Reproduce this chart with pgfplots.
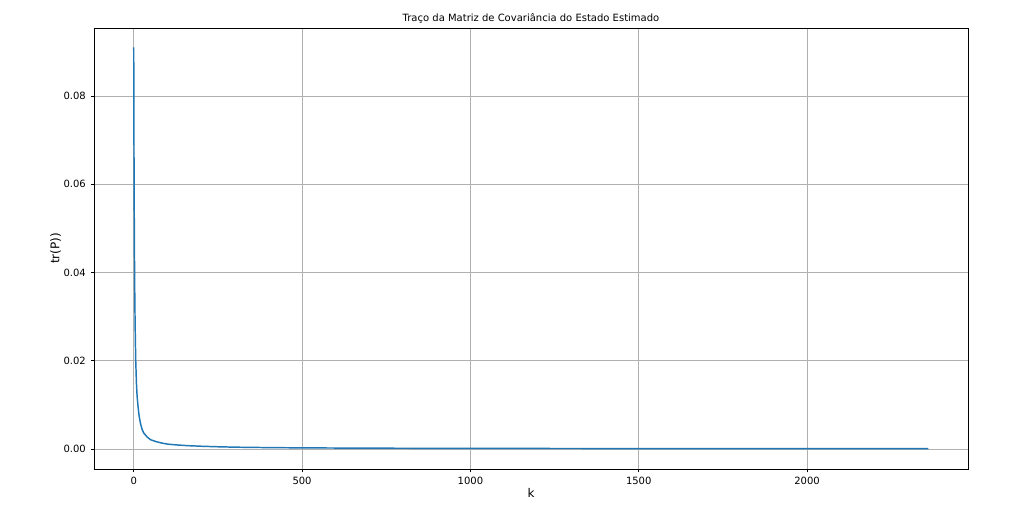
\documentclass[border=0pt]{standalone}
\usepackage{fontspec}
\setmainfont{DejaVu Sans}
\usepackage{pgfplots}
\pgfplotsset{compat=1.18}

\definecolor{mplblue}{HTML}{1F77B4}
\definecolor{mplgrid}{HTML}{B0B0B0}

\begin{document}
\begin{tikzpicture}[x=0.75pt,y=0.75pt]
  % page = 1024 x 512 px, axis box from (94,28) to (968,469) px
  \path[use as bounding box] (-94,-43) rectangle (930,469);
  \begin{axis}[
    at={(0,0)}, anchor=south west,
    scale only axis,
    width=655.5pt, height=330.75pt,
    xmin=-118, xmax=2478,
    ymin=-0.00454, ymax=0.0954,
    xtick={0,500,1000,1500,2000},
    ytick={0,0.02,0.04,0.06,0.08},
    xticklabel style={/pgf/number format/.cd, 1000 sep={}},
    yticklabel style={/pgf/number format/.cd, fixed, fixed zerofill, precision=2},
    scaled y ticks=false,
    /pgf/number format/assume math mode=true,
    tick label style={font=\fontsize{7.5}{9}\selectfont},
    tick align=outside,
    major tick length=2.6pt,
    tick style={black, line width=0.6pt},
    xtick pos=bottom, ytick pos=left,
    grid=major,
    major grid style={mplgrid, line width=0.6pt},
    axis line style={black, line width=0.6pt},
    title={Traço da Matriz de Covariância do Estado Estimado},
    title style={font=\fontsize{7.5}{9}\selectfont, yshift=-6pt},
    xlabel={k},
    ylabel={tr(P))},
    label style={font=\fontsize{9}{11}\selectfont},
    xlabel style={yshift=4pt},
    ylabel style={yshift=-5pt},
  ]
  \addplot[mplblue, line width=1.1pt, line join=round] table {
    k P
    0 0.0910
    1 0.0620
    2 0.0460
    3 0.0360
    4 0.0290
    5 0.0240
    6 0.0200
    8 0.0150
    10 0.0120
    13 0.0095
    16 0.0075
    20 0.0058
    25 0.0044
    30 0.0036
    40 0.0027
    50 0.0021
    65 0.0017
    80 0.0014
    100 0.0011
    130 0.0009
    160 0.00075
    200 0.00062
    250 0.00050
    300 0.00041
    400 0.00031
    500 0.00025
    700 0.00018
    1000 0.00013
    1500 0.00009
    2000 0.00007
    2360 0.00006
  };
  \end{axis}
\end{tikzpicture}
\end{document}
